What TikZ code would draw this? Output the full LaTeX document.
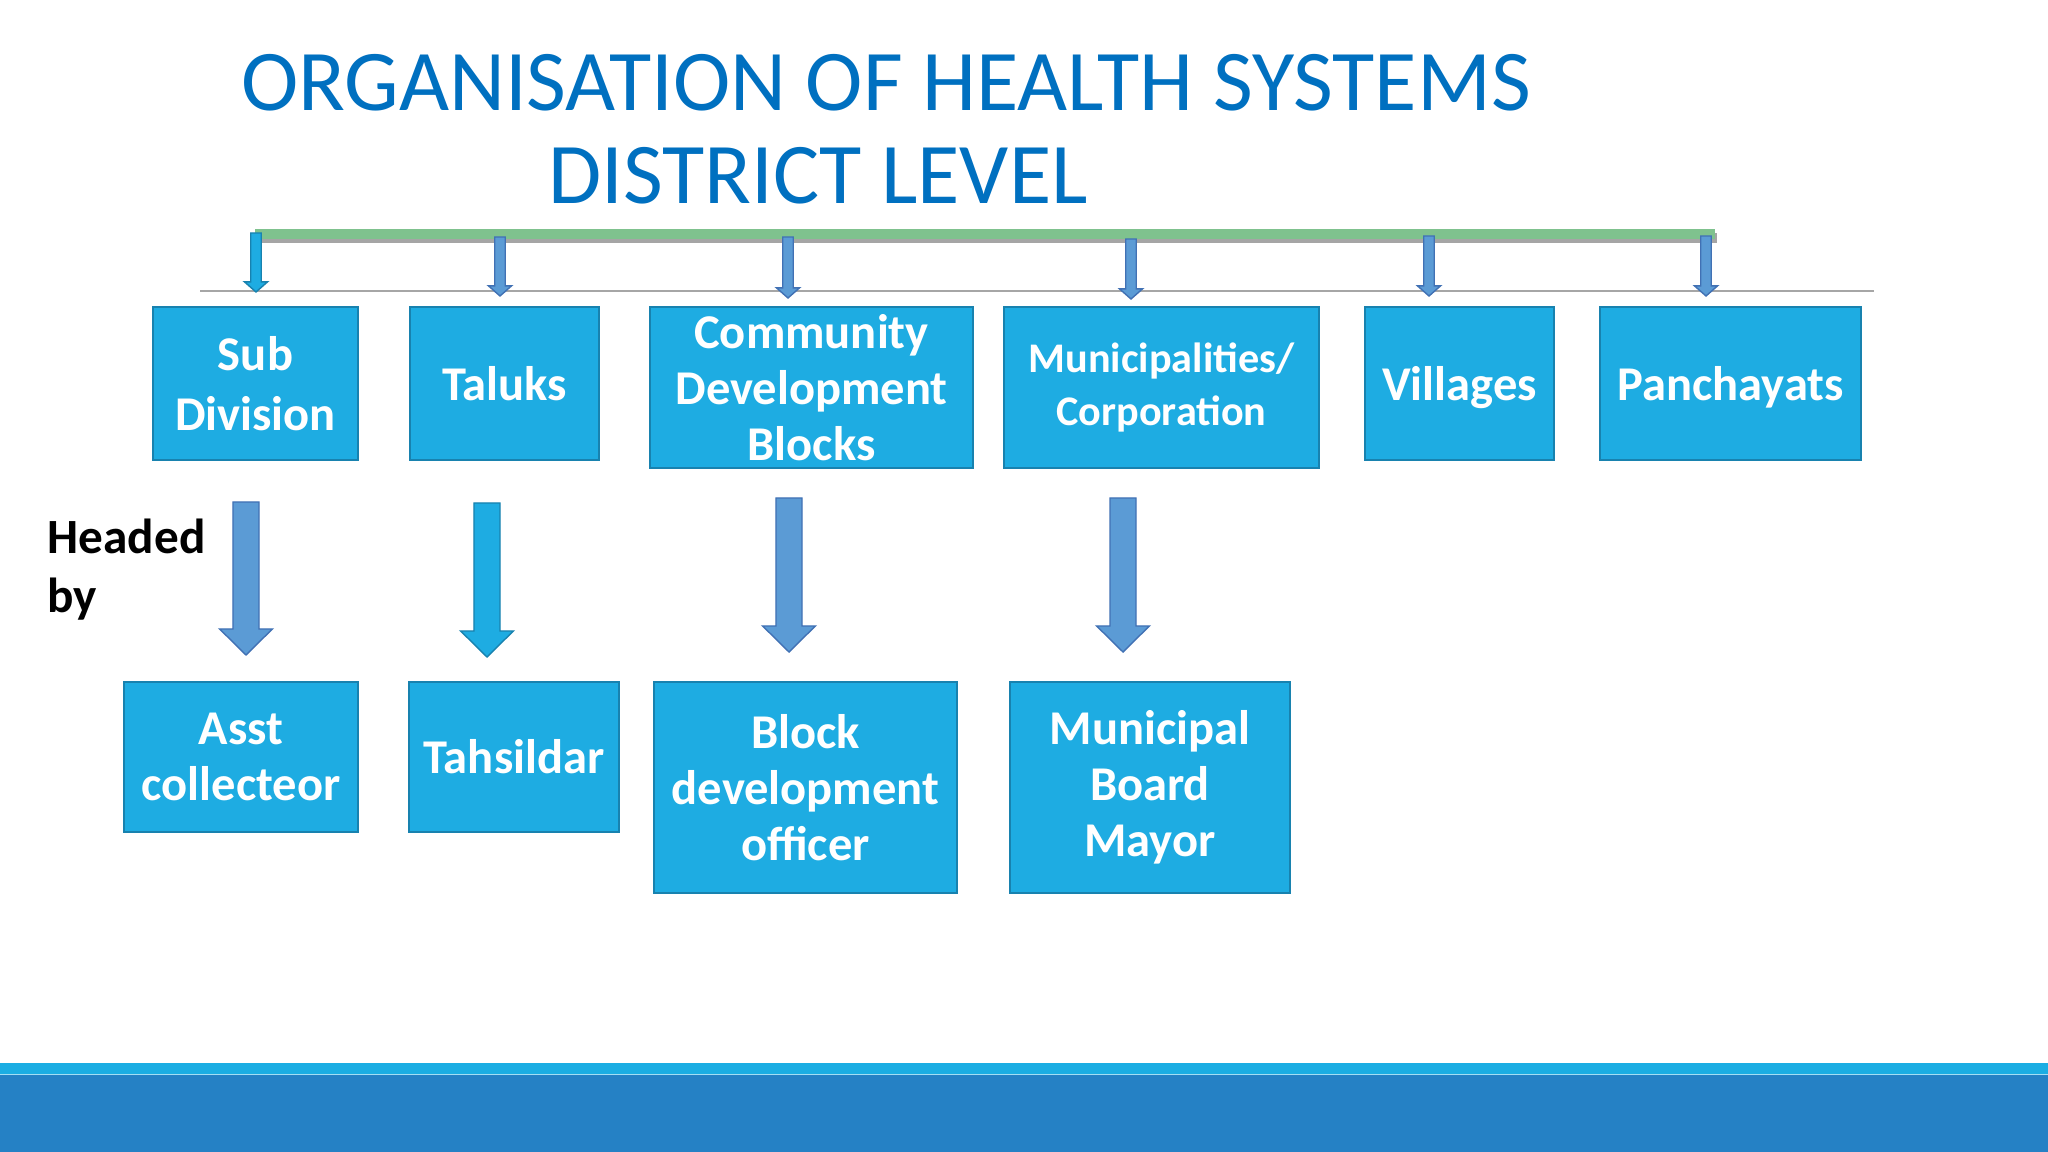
\documentclass[tikz,border=0pt]{standalone}
\usepackage{fontspec}
\setmainfont{Carlito}
\usepackage{tikz}
\usepackage{xcolor}
\usetikzlibrary{calc}

\definecolor{titleblue}{RGB}{0,112,192}
\definecolor{boxfill}{RGB}{30,172,226}
\definecolor{boxedge}{RGB}{24,130,175}
\definecolor{arrowfill}{RGB}{91,155,213}
\definecolor{arrowedge}{RGB}{65,113,180}
\definecolor{barfill}{RGB}{127,194,142}
\definecolor{barshade}{RGB}{165,165,165}
\definecolor{rulegray}{RGB}{166,166,166}
\definecolor{bandlight}{RGB}{27,173,227}
\definecolor{banddark}{RGB}{37,129,197}

\tikzset{
    unitbox/.style={rectangle, draw=boxedge, line width=0.6pt, fill=boxfill, text=white,
        inner sep=0pt, align=center, font=\fontsize{13.8pt}{16pt}\selectfont\bfseries},
    titletext/.style={anchor=base, inner sep=0pt, text=titleblue,
        font=\fontsize{24.6pt}{26pt}\selectfont},
    bluearrow/.style={draw=arrowedge, line width=0.4pt, fill=arrowfill},
    cyanarrow/.style={draw=boxedge, line width=0.4pt, fill=boxfill}
}

\newcommand{\blockdown}[6]{%
    \draw[#1] let \p1 = (#2), \p2 = (#3) in
        (\x1 - #4, \y1) -- (\x1 - #4, \y2 + #6) -- (\x1 - #5, \y2 + #6)
        -- (\x1, \y2) -- (\x1 + #5, \y2 + #6) -- (\x1 + #4, \y2 + #6)
        -- (\x1 + #4, \y1) -- cycle;
}

\begin{document}
\begin{tikzpicture}[x=0.01cm, y=-0.01cm]
        \useasboundingbox (0, 0) rectangle (2048, 1152);
        \fill[white] (0, 0) rectangle (2048, 1152);

        \node[titletext] at (886, 111) (title1) {ORGANISATION OF HEALTH SYSTEMS};
        \node[titletext] at (818, 204) (title2) {DISTRICT LEVEL};

        \coordinate (barL) at (255, 234);
        \coordinate (barR) at (1715, 234);
        \coordinate (ruleL) at (200, 291);
        \coordinate (ruleR) at (1874, 291);
        \draw[barshade, line width=2.6pt] ($(barL) + (2, 4)$) -- ($(barR) + (2, 4)$);
        \draw[barfill, line width=2.6pt] (barL) -- (barR);
        \draw[rulegray, line width=0.5pt] (ruleL) -- (ruleR);

        \coordinate (t1) at (256, 233);
        \coordinate (h1) at (256, 292);
        \coordinate (t2) at (500, 237);
        \coordinate (h2) at (500, 296);
        \coordinate (t3) at (788, 237);
        \coordinate (h3) at (788, 298);
        \coordinate (t4) at (1131, 239);
        \coordinate (h4) at (1131, 299);
        \coordinate (t5) at (1429, 236);
        \coordinate (h5) at (1429, 296);
        \coordinate (t6) at (1706, 236);
        \coordinate (h6) at (1706, 296);
        \blockdown{cyanarrow}{t1}{h1}{1.5pt}{3.3pt}{2.9pt}
        \blockdown{bluearrow}{t2}{h2}{1.5pt}{3.3pt}{2.9pt}
        \blockdown{bluearrow}{t3}{h3}{1.5pt}{3.3pt}{2.9pt}
        \blockdown{bluearrow}{t4}{h4}{1.5pt}{3.3pt}{2.9pt}
        \blockdown{bluearrow}{t5}{h5}{1.5pt}{3.3pt}{2.9pt}
        \blockdown{bluearrow}{t6}{h6}{1.5pt}{3.3pt}{2.9pt}

        \node[unitbox, minimum width=2.05cm, minimum height=1.53cm, font=\fontsize{13.8pt}{17pt}\selectfont\bfseries] at (255.5, 383.5) (subdiv) {Sub\\Division};
        \node[unitbox, minimum width=1.89cm, minimum height=1.53cm] at (504.5, 383.5) (taluks) {Taluks};
        \node[unitbox, minimum width=3.23cm, minimum height=1.61cm] at (811.5, 387.5) (blocks) {Community\\Development\\Blocks};
        \node[unitbox, minimum width=3.15cm, minimum height=1.61cm, font=\fontsize{12pt}{14.8pt}\selectfont\bfseries] at (1161.5, 387.5) (municip) {Municipalities/\\Corporation};
        \node[unitbox, minimum width=1.89cm, minimum height=1.53cm, text depth=0pt] at (1459.5, 383.5) (villages) {Villages};
        \node[unitbox, minimum width=2.61cm, minimum height=1.53cm, text depth=0pt] at (1730.5, 383.5) (panch) {Panchayats};

        \node[unitbox, minimum width=2.34cm, minimum height=1.50cm] at (241, 757) (asst) {Asst\\collecteor};
        \node[unitbox, minimum width=2.10cm, minimum height=1.50cm] at (514, 757) (tahsil) {Tahsildar};
        \node[unitbox, minimum width=3.03cm, minimum height=2.11cm] at (805.5, 787.5) (bdo) {Block\\development\\officer};
        \node[unitbox, minimum width=2.80cm, minimum height=2.11cm] at (1150, 787.5) (mayor) {Municipal\\Board\\Mayor};

        \coordinate (s1) at (246, 502);
        \coordinate (e1) at (246, 655);
        \coordinate (s2) at (487, 503);
        \coordinate (e2) at (487, 657);
        \coordinate (s3) at (789, 498);
        \coordinate (e3) at (789, 652);
        \coordinate (s4) at (1123, 498);
        \coordinate (e4) at (1123, 652);
        \blockdown{bluearrow}{s1}{e1}{3.7pt}{7.5pt}{7.4pt}
        \blockdown{cyanarrow}{s2}{e2}{3.7pt}{7.5pt}{7.4pt}
        \blockdown{bluearrow}{s3}{e3}{3.7pt}{7.5pt}{7.4pt}
        \blockdown{bluearrow}{s4}{e4}{3.7pt}{7.5pt}{7.4pt}

        \node[anchor=base west, align=left, inner sep=0pt, font=\fontsize{14pt}{16.8pt}\selectfont\bfseries] at (47, 613) (headed) {Headed\\by};

        \fill[bandlight] (0, 1063) rectangle (2048, 1075);
        \fill[banddark] (0, 1075) rectangle (2048, 1152);
        \draw[white!60!bandlight, line width=0.3pt] (0, 1074.5) -- (2048, 1074.5);
\end{tikzpicture}
\end{document}
